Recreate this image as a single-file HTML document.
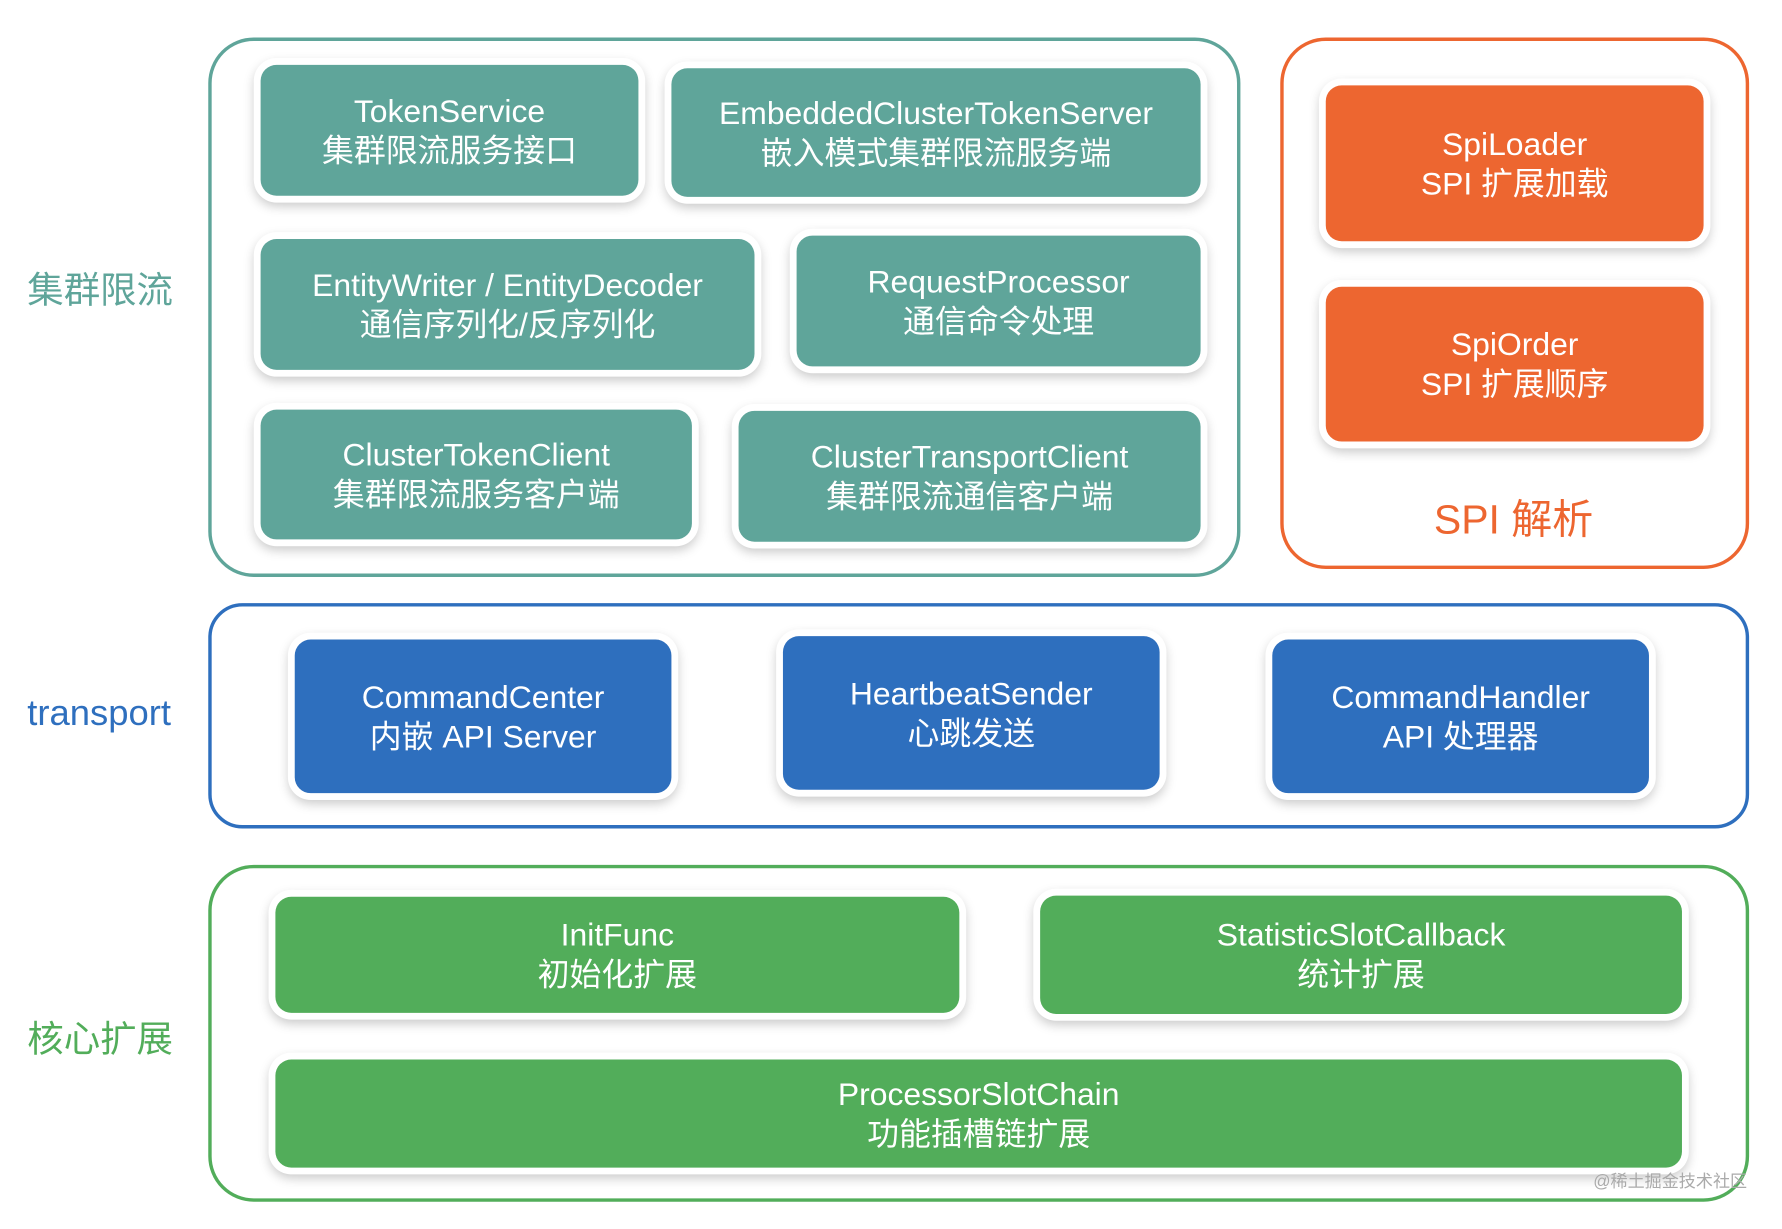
<!DOCTYPE html>
<html><head><meta charset="utf-8"><style>
html,body{margin:0;padding:0;background:#fff;}
body{width:1782px;height:1220px;overflow:hidden;position:relative;}
#w{position:absolute;left:0;top:0;width:1560px;height:1080px;transform:scale(1.138,1.138);transform-origin:0 0;font-family:"Liberation Sans","Noto Sans CJK SC",sans-serif;}
.c{position:absolute;border:3px solid;border-radius:40px;box-sizing:border-box;}
.b{position:absolute;border-radius:14px;color:#fff;display:flex;flex-direction:column;justify-content:center;align-items:center;text-align:center;font-size:28px;line-height:35px;box-shadow:0 0 0 6px #fff,0 4px 10px 5px rgba(0,0,0,.22);}
.t{background:#5fa59a}.o{background:#ed6630}.bl{background:#2e6fbe}.g{background:#52ad5a}
.l{position:absolute;font-size:32px;}
</style></head><body><div id="w">
<div class="c" style="left:183px;top:33px;width:907px;height:474px;border-color:#5fa59a"></div>
<div class="c" style="left:1125px;top:33px;width:412px;height:467px;border-color:#ed6630"></div>
<div class="c" style="left:183px;top:530px;width:1354px;height:198px;border-color:#2e6fbe;border-radius:30px"></div>
<div class="c" style="left:183px;top:760px;width:1354px;height:296px;border-color:#52ad5a"></div>

<div class="b t" style="left:229px;top:57px;width:332px;height:115px">TokenService<br>集群限流服务接口</div>
<div class="b t" style="left:590px;top:60px;width:465px;height:113px">EmbeddedClusterTokenServer<br>嵌入模式集群限流服务端</div>
<div class="b t" style="left:229px;top:210px;width:434px;height:115px">EntityWriter / EntityDecoder<br>通信序列化/反序列化</div>
<div class="b t" style="left:700px;top:207px;width:355px;height:115px">RequestProcessor<br>通信命令处理</div>
<div class="b t" style="left:229px;top:360px;width:379px;height:114px">ClusterTokenClient<br>集群限流服务客户端</div>
<div class="b t" style="left:649px;top:361px;width:406px;height:115px">ClusterTransportClient<br>集群限流通信客户端</div>

<div class="b o" style="left:1165px;top:75px;width:332px;height:137px">SpiLoader<br>SPI 扩展加载</div>
<div class="b o" style="left:1165px;top:252px;width:332px;height:136px">SpiOrder<br>SPI 扩展顺序</div>
<div class="l" style="left:1230px;top:428px;width:200px;text-align:center;color:#ed6630;font-size:36px">SPI 解析</div>

<div class="b bl" style="left:259px;top:562px;width:331px;height:135px">CommandCenter<br>内嵌 API Server</div>
<div class="b bl" style="left:688px;top:559px;width:331px;height:135px">HeartbeatSender<br>心跳发送</div>
<div class="b bl" style="left:1118px;top:562px;width:331px;height:135px">CommandHandler<br>API 处理器</div>

<div class="b g" style="left:242px;top:788px;width:601px;height:102px">InitFunc<br>初始化扩展</div>
<div class="b g" style="left:914px;top:787px;width:564px;height:104px">StatisticSlotCallback<br>统计扩展</div>
<div class="b g" style="left:242px;top:931px;width:1236px;height:95px">ProcessorSlotChain<br>功能插槽链扩展</div>

<div class="l" style="left:24px;top:230px;color:#5fa59a">集群限流</div>
<div class="l" style="left:24px;top:608px;color:#2e6fbe">transport</div>
<div class="l" style="left:24px;top:888px;color:#52ad5a">核心扩展</div>
<div style="position:absolute;left:1400px;top:1027px;font-size:15px;color:#aaa">@稀土掘金技术社区</div>
</div></body></html>
